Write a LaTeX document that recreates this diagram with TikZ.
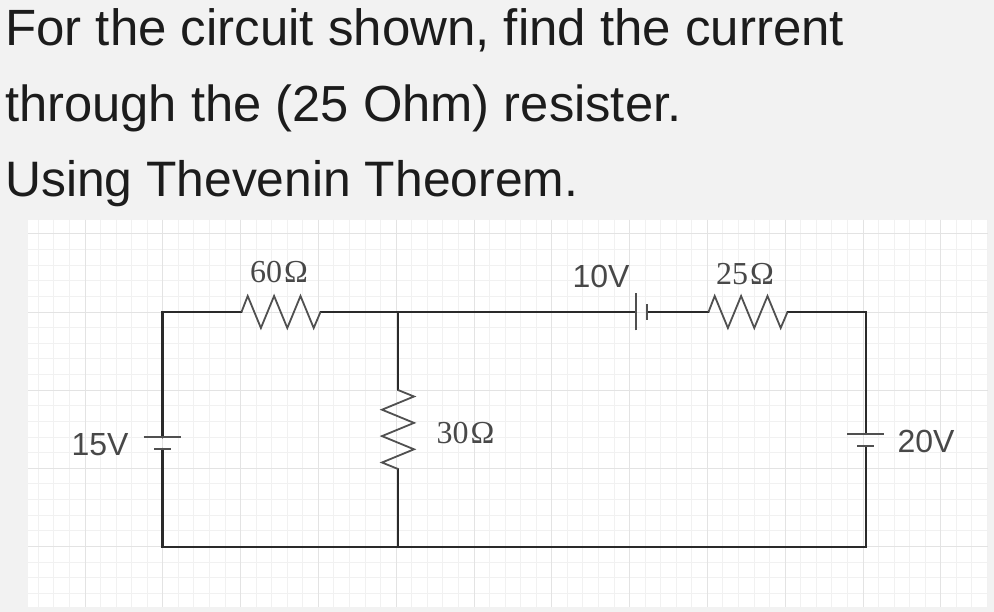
\documentclass[tikz,border=0pt]{standalone}
\usepackage{fontspec}
\setmainfont{Liberation Sans}
\newfontfamily\ohmfont{Liberation Serif}
\definecolor{pagebg}{HTML}{F2F2F2}
\definecolor{gridminor}{HTML}{F1F1F1}
\definecolor{gridmajor}{HTML}{E3E3E3}
\definecolor{wirecol}{HTML}{2A2A2A}
\definecolor{partcol}{HTML}{505050}
\definecolor{labelcol}{HTML}{484848}
\definecolor{titlecol}{HTML}{1C1C1C}
\tikzset{
  wire/.style={draw=wirecol,line width=2.4pt,line cap=round,line join=miter},
  part/.style={draw=partcol,line width=1.8pt,line join=miter},
  plate/.style={draw=partcol,line width=1.8pt},
  titletext/.style={anchor=base west,inner sep=0pt,text=titlecol},
  vlabel/.style={anchor=base,inner sep=0pt,text=labelcol,font=\fontsize{32}{32}\selectfont},
  rlabel/.style={anchor=base,inner sep=0pt,text=labelcol,font=\ohmfont\fontsize{32}{32}\selectfont},
}
\begin{document}
\begin{tikzpicture}[x=1pt,y=-1pt]
\useasboundingbox (0,0) rectangle (994,612);
\fill[pagebg] (0,0) rectangle (994,612);
\fill[white] (28,220) rectangle (988,607);
% grid
\begin{scope}
\clip (28,220) rectangle (988,607);
\foreach \i in {-4,...,60} {
  \draw[gridminor,line width=1pt] ({85+15.56*\i},220) -- ({85+15.56*\i},607);
}
\foreach \i in {-1,...,24} {
  \draw[gridminor,line width=1pt] (28,{234+15.62*\i}) -- (988,{234+15.62*\i});
}
\foreach \i in {0,...,12} {
  \draw[gridmajor,line width=1pt] ({85+77.8*\i},220) -- ({85+77.8*\i},607);
}
\foreach \i in {0,...,4} {
  \draw[gridmajor,line width=1pt] (28,{234+78.1*\i}) -- (988,{234+78.1*\i});
}
\end{scope}
% title
\node[titletext,font=\fontsize{51}{51}\selectfont] (t1) at (5,46) {For the circuit shown, find the current};
\node[titletext,font=\fontsize{50.7}{51}\selectfont] (t2) at (5,121.7) {through the (25 Ohm) resister.};
\node[titletext,font=\fontsize{49.8}{51}\selectfont] (t3) at (5,196.7) {Using Thevenin Theorem.};
% junctions
\coordinate (tl) at (162.5,312);
\coordinate (bl) at (162.5,547);
\coordinate (tm) at (398,312);
\coordinate (bm) at (398,547);
\coordinate (tr) at (865.7,312);
\coordinate (br) at (865.7,547);
\coordinate (r60a) at (241.5,312);
\coordinate (r60b) at (320.5,312);
\coordinate (r25a) at (708.5,312);
\coordinate (r25b) at (787.5,312);
\coordinate (r30a) at (398,390);
\coordinate (r30b) at (398,469);
\coordinate (b15a) at (162.5,437.3);
\coordinate (b15b) at (162.5,449);
\coordinate (b20a) at (865.7,434);
\coordinate (b20b) at (865.7,446.3);
\coordinate (b10a) at (635.7,312);
\coordinate (b10b) at (647,312);
% wires
\draw[wire] (b15a) -- (tl) -- (r60a);
\draw[wire] (r60b) -- (tm) -- (b10a);
\draw[wire] (b10b) -- (r25a);
\draw[wire] (r25b) -- (tr) -- (b20a);
\draw[wire] (b20b) -- (br) -- (bl) -- (b15b);
\draw[wire] (tm) -- (r30a);
\draw[wire] (r30b) -- (bm);
% resistors
\draw[part] (r60a) -- ++(6.2,-16) -- ++(13.2,32) -- ++(13.2,-32) -- ++(13.2,32) -- ++(13.2,-32) -- ++(13.2,32) -- (r60b);
\draw[part] (r25a) -- ++(6.2,-16) -- ++(13.2,32) -- ++(13.2,-32) -- ++(13.2,32) -- ++(13.2,-32) -- ++(13.2,32) -- (r25b);
\draw[part] (r30a) -- ++(16,6.5) -- ++(-32,13.2) -- ++(32,13.2) -- ++(-32,13.2) -- ++(32,13.2) -- ++(-32,13.2) -- (r30b);
% batteries
\draw[plate] ([xshift=-19pt]b15a) -- ([xshift=18.5pt]b15a);
\draw[plate] ([xshift=-8.5pt]b15b) -- ([xshift=8.5pt]b15b);
\draw[plate] ([xshift=-18.5pt]b20a) -- ([xshift=18.5pt]b20a);
\draw[plate] ([xshift=-8.5pt]b20b) -- ([xshift=8.5pt]b20b);
\draw[plate] ([yshift=-18.5pt]b10a) -- ([yshift=18.5pt]b10a);
\draw[plate] ([yshift=-8pt]b10b) -- ([yshift=8pt]b10b);
% labels
\node[rlabel] (l60) at (279,283) {60$\,$\kern-2pt Ω};
\node[rlabel] (l25) at (745,285) {25$\,$\kern-2pt Ω};
\node[rlabel] (l30) at (465.5,443) {30$\,$\kern-2pt Ω};
\node[vlabel] (l10) at (601,288) {10V};
\node[vlabel] (l15) at (100,456) {15V};
\node[vlabel] (l20) at (926,452) {20V};
\end{tikzpicture}
\end{document}
